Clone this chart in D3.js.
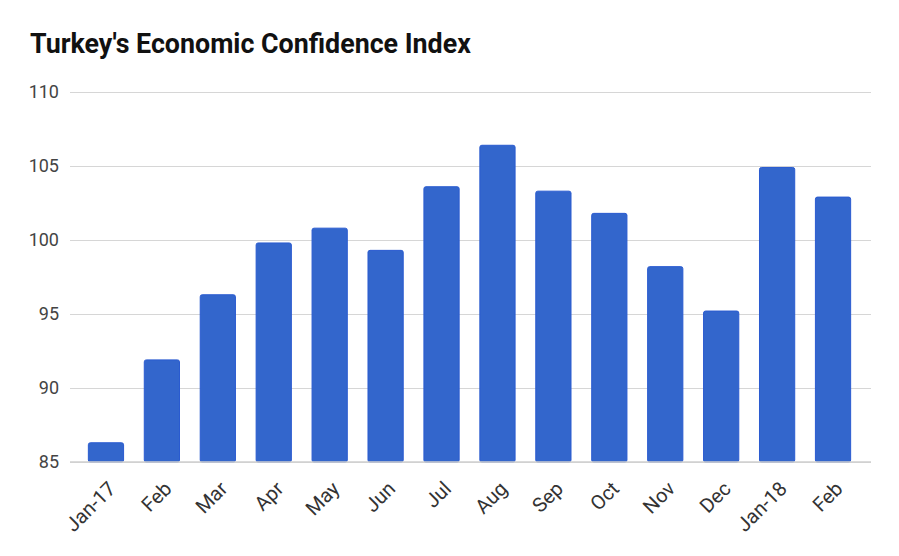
<!DOCTYPE html>
<html>
<head>
<meta charset="utf-8">
<script src="https://cdn.jsdelivr.net/npm/d3@7"></script>
<style>
  body { margin: 0; background: #fff; }
  text { font-family: Roboto, "Noto Sans", sans-serif; }
</style>
</head>
<body>
<div id="chart"></div>
<script>
// Turkey's Economic Confidence Index, monthly
const months = ["Jan-17", "Feb", "Mar", "Apr", "May", "Jun", "Jul", "Aug",
                "Sep", "Oct", "Nov", "Dec", "Jan-18", "Feb"];
const values = [86.3, 91.9, 96.3, 99.8, 100.8, 99.3, 103.6, 106.4,
                103.3, 101.8, 98.2, 95.2, 104.9, 102.9];
const yTicks = [85, 90, 95, 100, 105, 110];

const width = 899, height = 556;

const svg = d3.select("#chart")
  .append("svg")
  .attr("width", width)
  .attr("height", height);

// scales
const xScale = d3.scaleBand()
  .domain(d3.range(months.length))
  .range([78, 861])
  .paddingInner(0.37)
  .paddingOuter(0.185);

const yScale = d3.scaleLinear()
  .domain([85, 110])
  .range([462, 92]);

// title
svg.append("text")
  .attr("x", 30)
  .attr("y", 53)
  .attr("font-size", "26.8px")
  .attr("font-weight", "bold")
  .attr("fill", "#111")
  .text("Turkey's Economic Confidence Index");

// gridlines + y labels
const yAxis = d3.axisLeft(yScale)
  .tickValues(yTicks)
  .tickSize(-(871 - 70))
  .tickPadding(11);

svg.append("g")
  .attr("class", "yaxis")
  .attr("transform", "translate(70, 0)")
  .call(yAxis)
  .call(g => g.select(".domain").remove())
  .call(g => g.selectAll(".tick line")
    .attr("stroke", "#d6d6d6")
    .attr("stroke-width", 1))
  .call(g => g.selectAll(".tick text")
    .attr("font-size", "18px")
    .attr("fill", "#444")
    .style("font-family", "Roboto, sans-serif"));

// bars
svg.append("g")
  .attr("class", "bars")
  .selectAll("rect")
  .data(values)
  .join("rect")
  .attr("x", (d, i) => xScale(i))
  .attr("y", d => yScale(d))
  .attr("width", xScale.bandwidth())
  .attr("height", d => yScale(85) - yScale(d))
  .attr("rx", 2)
  .attr("fill", "#3366cc")
  .attr("stroke", "#2a5bd0")
  .attr("stroke-width", 1);

// redraw baseline on top of bars
svg.append("line")
  .attr("x1", 70)
  .attr("x2", 871)
  .attr("y1", yScale(85))
  .attr("y2", yScale(85))
  .attr("stroke", "#cfcfcf")
  .attr("stroke-width", 1.5);

// x labels, rotated
const xAxis = d3.axisBottom(xScale)
  .tickFormat(i => months[i])
  .tickSize(0);

svg.append("g")
  .attr("class", "xaxis")
  .attr("transform", `translate(0, ${yScale(85)})`)
  .call(xAxis)
  .call(g => g.select(".domain").remove())
  .call(g => g.selectAll(".tick text")
    .attr("font-size", "20px")
    .attr("fill", "#333")
    .style("font-family", "Roboto, sans-serif")
    .attr("text-anchor", "end")
    .attr("dy", "0")
    .attr("y", 0)
    .attr("transform", "translate(11, 28) rotate(-45)"));
</script>
</body>
</html>
